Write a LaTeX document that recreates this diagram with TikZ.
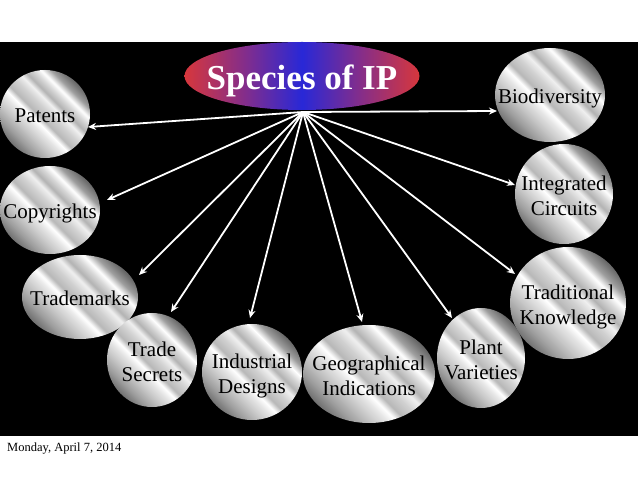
\documentclass[tikz,border=0pt]{standalone}
\usepackage{fontspec}
\setmainfont{Liberation Serif}
\usetikzlibrary{shapes.geometric,arrows.meta}
\definecolor{tred}{RGB}{215,55,60}
\definecolor{tblue}{RGB}{40,40,215}
\definecolor{tmid}{RGB}{130,45,140}
\pgfdeclarehorizontalshading{titleshade}{100bp}{color(0bp)=(tred); color(25bp)=(tred); color(38bp)=(tmid); color(50bp)=(tblue); color(62bp)=(tmid); color(75bp)=(tred); color(100bp)=(tred)}
\pgfdeclarehorizontalshading{metal}{100bp}{color(0bp)=(black!55); color(25bp)=(black!55); color(30bp)=(black!38); color(36bp)=(black!22); color(41bp)=(black!10); color(44bp)=(white); color(47bp)=(black!28); color(52bp)=(black!18); color(56bp)=(black!6); color(59bp)=(black!30); color(63bp)=(black!15); color(66bp)=(white); color(70bp)=(black!38); color(75bp)=(black!60); color(100bp)=(black!60)}
\newcommand\lbl[2][-4pt]{\raisebox{#1}[\height][\depth]{\makebox[0pt]{\begin{tabular}{@{}c@{}}#2\end{tabular}}}}
\tikzset{
  disc/.style={ellipse, inner sep=0pt, outer sep=0pt, shading=metal, shading angle=45,
    font=\fontsize{21}{25}\selectfont, text=black},
  arr/.style={white, line width=1.8pt, -{Stealth[length=8pt,width=7pt]}},
}
\begin{document}
\begin{tikzpicture}[x=1pt,y=-1pt]
\useasboundingbox (0,0) rectangle (638,478);
\fill[white] (0,0) rectangle (638,478);
\fill[black] (0,42) rectangle (638,436);

\node[ellipse, inner sep=0pt, shading=titleshade, minimum width=235pt, minimum height=68pt,
  font=\fontsize{35}{40}\selectfont\bfseries, text=white] (title) at (302,76) {\lbl[-6pt]{Species of IP}};

\node[disc, minimum width=90pt, minimum height=88pt] (pat) at (45,114) {\lbl{Patents}};
\node[disc, minimum width=100pt, minimum height=88pt] (cop) at (50,210) {\lbl{Copyrights}};
\node[disc, minimum width=116pt, minimum height=84pt] (tm) at (80,297) {\lbl{Trademarks}};
\node[disc, minimum width=90pt, minimum height=94pt] (ts) at (152,360) {\lbl{Trade\\Secrets}};
\node[disc, minimum width=100pt, minimum height=96pt] (ind) at (252,372) {\lbl{Industrial\\Designs}};
\node[disc, minimum width=132pt, minimum height=98pt] (gi) at (369,374) {\lbl{Geographical\\Indications}};
\node[disc, minimum width=88pt, minimum height=100pt] (pv) at (481,358) {\lbl{Plant\\Varieties}};
\node[disc, minimum width=116pt, minimum height=112pt] (tk) at (568,303) {\lbl{Traditional\\Knowledge}};
\node[disc, minimum width=98pt, minimum height=100pt] (ic) at (564,194) {\lbl{Integrated\\Circuits}};
\node[disc, minimum width=110pt, minimum height=94pt] (bio) at (550,95) {\lbl{Biodiversity}};

\coordinate (hub) at (303,112);
\coordinate (tpat) at (88,127);
\coordinate (tcop) at (107,200);
\coordinate (ttm) at (139,275);
\coordinate (tts) at (171,312);
\coordinate (tind) at (250,318);
\coordinate (tgi) at (362,322);
\coordinate (tpv) at (452,318);
\coordinate (ttk) at (515,274);
\coordinate (tic) at (515,185);
\coordinate (tbio) at (497,111);

\foreach \t in {tpat,tcop,ttm,tts,tind,tgi,tpv,ttk,tic,tbio}
  \draw[arr] (hub) -- (\t);

\node[anchor=west, inner sep=0pt, font=\fontsize{12.5}{14}\selectfont] (date) at (7,449) {Monday, April 7, 2014};
\end{tikzpicture}
\end{document}
